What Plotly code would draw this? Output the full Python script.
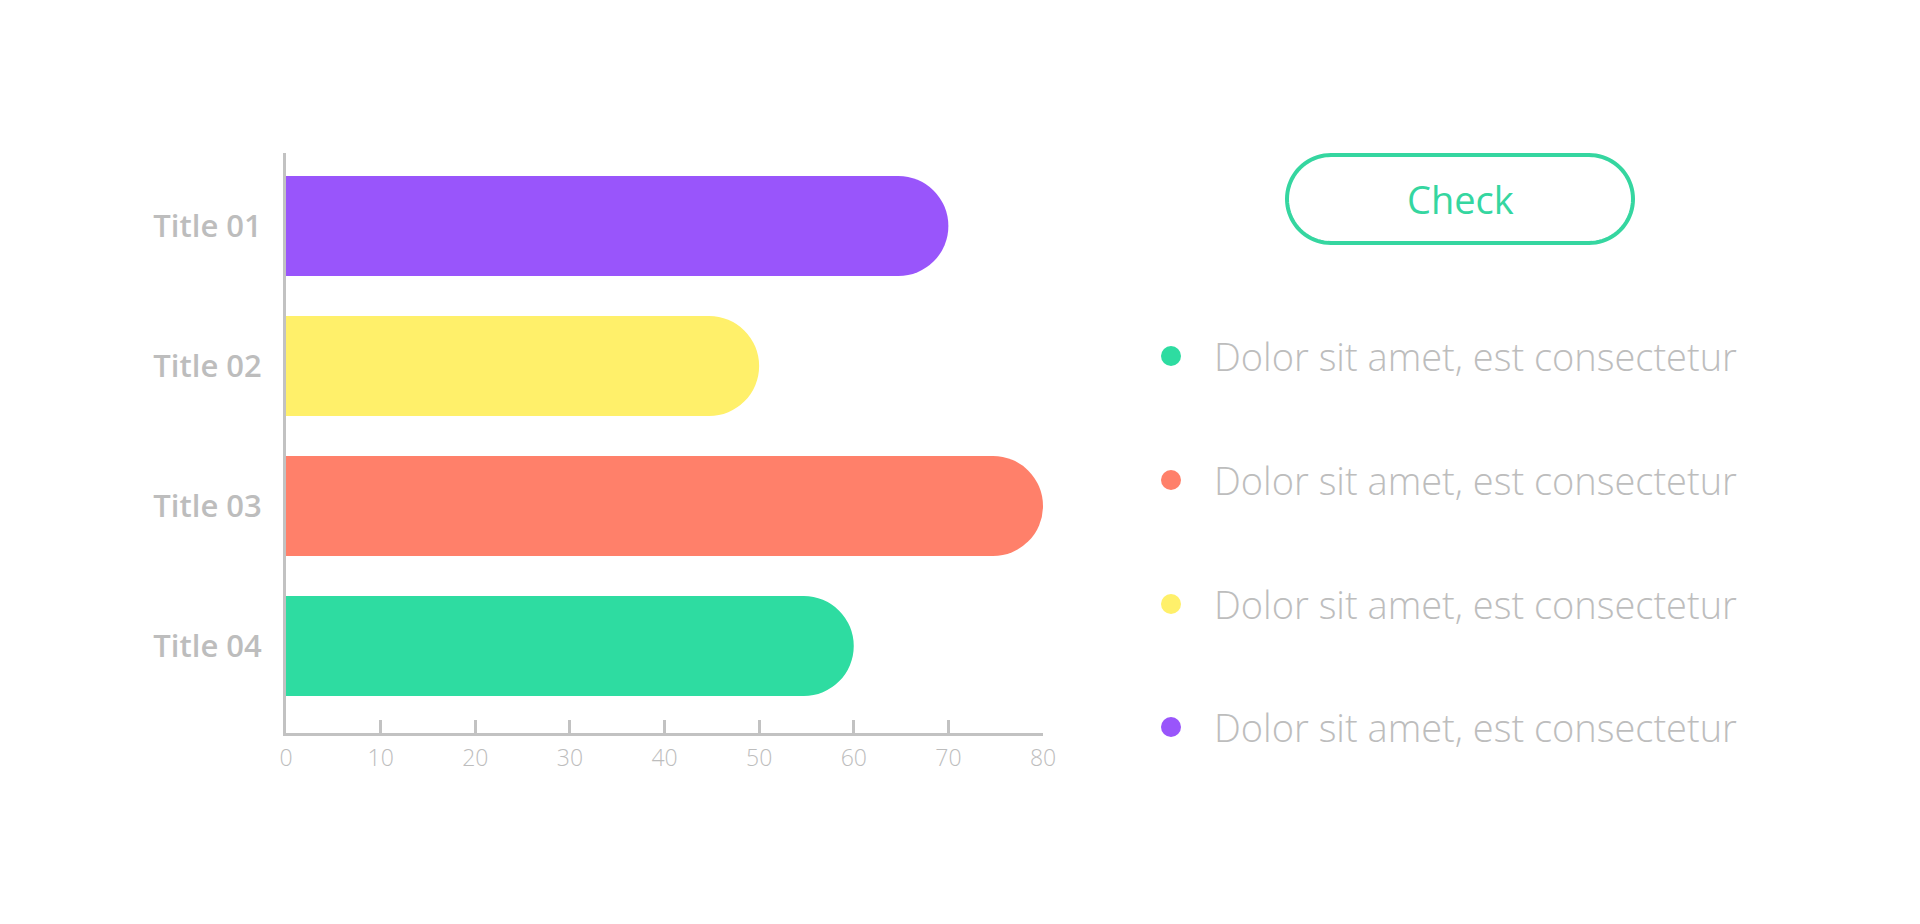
import math
import plotly.graph_objects as go

# ---- data ----
categories = ["Title 01", "Title 02", "Title 03", "Title 04"]
values = [70, 50, 80, 60]
bar_colors = ["#9955FB", "#FFF06A", "#FF806A", "#2EDCA1"]
x_ticks = [0, 10, 20, 30, 40, 50, 60, 70, 80]
legend_texts = ["Dolor sit amet, est consectetur"] * 4
legend_colors = ["#2EDCA1", "#FF806A", "#FFF06A", "#9955FB"]
button_label = "Check"

GRAY = "#C2C2C2"
LABEL = "#BDBDBD"
GREEN = "#35D6A0"

# page body has an 8px margin; work in screen pixels and subtract it
OFF = 8
FW, FH = 1920 - OFF * 2, 924 - OFF * 2
L, R, T, B = 286 - OFF, 1043 - OFF, 153 - OFF, 733 - OFF
W, H = R - L, B - T


def px(x):
    return (x - OFF - L) / W


def py(y):
    return (B - (y - OFF)) / H


fig = go.Figure()
fig.add_trace(go.Bar(
    y=categories, x=values, orientation="h",
    marker=dict(color=bar_colors, line=dict(width=0), cornerradius="50%"),
    hoverinfo="skip",
))

# screen layout of categories: centres at 226 + 140*i
top_units = (226 - 153) / 140
bot_units = 3 + (733 - 646) / 140

fig.update_layout(
    width=FW, height=FH,
    margin=dict(l=L, r=FW - R, t=T, b=FH - B, pad=0),
    paper_bgcolor="white", plot_bgcolor="white",
    bargap=40 / 140,
    showlegend=False,
    xaxis=dict(
        range=[0, 80], tickvals=x_ticks, ticktext=[str(v) for v in x_ticks],
        showgrid=False, zeroline=False,
        showline=True, linecolor=GRAY, linewidth=3,
        ticks="inside", ticklen=13, tickwidth=3, tickcolor=GRAY,
        tickfont=dict(family="Open Sans", size=23, color=LABEL, weight=300),
        ticklabelstandoff=2,
        fixedrange=True,
    ),
    yaxis=dict(
        type="category", categoryorder="array", categoryarray=categories,
        range=[bot_units, -top_units],
        showgrid=False, zeroline=False,
        showline=True, linecolor=GRAY, linewidth=3, ticks="",
        tickfont=dict(family="Open Sans", size=31, color=LABEL, weight=600),
        ticklabelstandoff=15,
        fixedrange=True,
    ),
)

# ---- "Check" pill button ----
bx0, bx1, by0, by1 = 1287, 1633, 155, 243
r = (by1 - by0) / 2
pts = []
cxr, cxl, cy = bx1 - r, bx0 + r, (by0 + by1) / 2
n = 40
for i in range(n + 1):
    a = -math.pi / 2 + math.pi * i / n
    pts.append((cxr + r * math.cos(a), cy + r * math.sin(a)))
for i in range(n + 1):
    a = math.pi / 2 + math.pi * i / n
    pts.append((cxl + r * math.cos(a), cy + r * math.sin(a)))
path = "M " + " L ".join(f"{px(x):.5f},{py(y):.5f}" for x, y in pts) + " Z"
fig.add_shape(type="path", path=path, xref="paper", yref="paper",
              line=dict(color=GREEN, width=4), fillcolor="rgba(0,0,0,0)")
fig.add_annotation(x=px((bx0 + bx1) / 2), y=py(199), xref="paper", yref="paper",
                   text=button_label, showarrow=False, xanchor="center", yanchor="middle",
                   font=dict(family="Open Sans", size=38, color=GREEN))

# ---- legend list ----
legend_y = [356, 480, 604, 727]
for txt, col, yy in zip(legend_texts, legend_colors, legend_y):
    fig.add_shape(type="circle", xref="paper", yref="paper",
                  x0=px(1161), x1=px(1181), y0=py(yy + 10), y1=py(yy - 10),
                  fillcolor=col, line=dict(width=0))
    fig.add_annotation(x=px(1212), y=py(yy), xref="paper", yref="paper",
                       text=txt, showarrow=False, xanchor="left", yanchor="middle",
                       font=dict(family="Open Sans", size=38, color=LABEL, weight=300))

fig.write_html("out.html", config={"displayModeBar": False})
